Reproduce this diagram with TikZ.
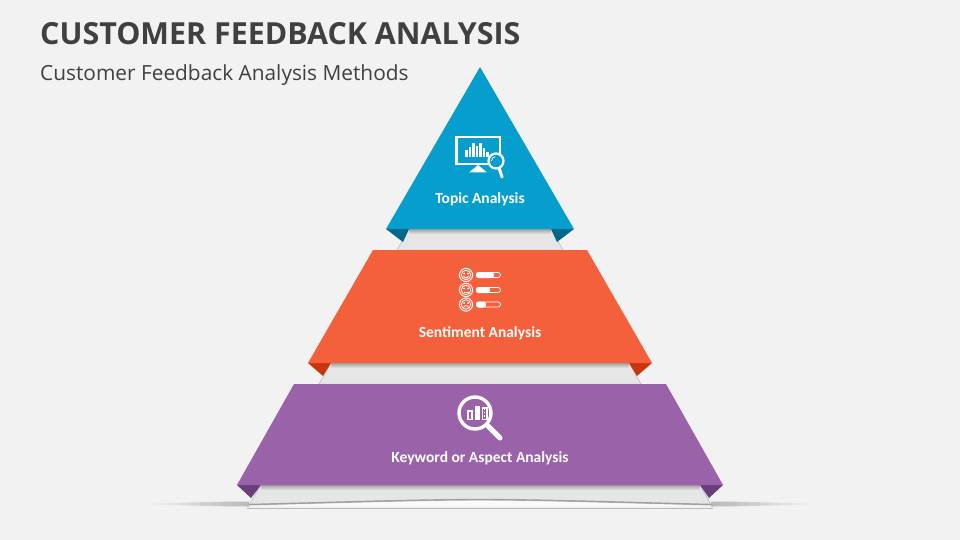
\documentclass[tikz,border=0pt]{standalone}
\usepackage{fontspec}
\setmainfont{Open Sans}
\newfontfamily\labelfont{Carlito}
\usetikzlibrary{positioning, calc}

\definecolor{pagebg}{HTML}{F2F2F2}
\definecolor{titlegray}{HTML}{404040}
\definecolor{topicblue}{HTML}{069FCD}
\definecolor{topicdark}{HTML}{04678A}
\definecolor{sentorange}{HTML}{F4603C}
\definecolor{sentdark}{HTML}{C9350C}
\definecolor{keypurple}{HTML}{9A62A8}
\definecolor{keydark}{HTML}{6A3D7E}
\definecolor{panelgray}{HTML}{E6E6E6}

\tikzset{
  titletext/.style={anchor=west, inner sep=0pt, text=titlegray, font=\fontsize{30.4}{36}\selectfont\bfseries},
  subtext/.style={anchor=west, inner sep=0pt, text=titlegray, font=\fontsize{20.85}{24}\selectfont},
  tiertext/.style={inner sep=0pt, text=white, font=\labelfont\fontsize{15.5}{18}\selectfont\bfseries},
  panel/.style={fill=panelgray, draw=gray!60, line width=0.5pt}
}

\begin{document}
\begin{tikzpicture}[x=1pt, y=-1pt]
\useasboundingbox (0,0) rectangle (960,540);
\fill[pagebg] (0,0) rectangle (960,540);

% Titles
\node[titletext] (title) at (40,33.5) {CUSTOMER FEEDBACK ANALYSIS};
\node[subtext] (subtitle) at (40,75) {Customer Feedback Analysis Methods};

% Ground shadow
\shade[left color=pagebg, right color=gray!55] (140,504) .. controls (190,502.5) and (220,501.5) .. (249,501.5) -- (249,506.5) .. controls (220,506.5) and (190,505.5) .. (140,504);
\shade[left color=gray!55, right color=pagebg] (711,501.5) .. controls (740,501.5) and (770,502.5) .. (820,504) .. controls (770,505.5) and (740,506.5) .. (711,506.5) -- cycle;

% Back panels
\draw[panel] (409,229) -- (397,250) -- (563,250) -- (551,229) -- cycle;
\draw[panel] (331,363) -- (319,384) -- (641,384) -- (629,363) -- cycle;
\draw[panel] (261,485) -- (249,505) .. controls (330,503) and (420,500) .. (480,500) .. controls (540,500) and (630,503) .. (711,505) -- (700,485) -- cycle;
\shade[top color=gray!75, bottom color=panelgray] (409,229) rectangle (551,234);
\shade[top color=gray!75, bottom color=panelgray] (331,363) rectangle (629,368);
\shade[top color=gray!75, bottom color=panelgray] (261,485) rectangle (700,490);
\draw[gray!75, line width=1.4pt] (249,504.5) .. controls (330,502.5) and (420,499.5) .. (480,499.5) .. controls (540,499.5) and (630,502.5) .. (711,504.5);
\fill[white!60!pagebg] (252,506) .. controls (330,504) and (420,501) .. (480,501) .. controls (540,501) and (630,504) .. (708,506) -- cycle;
\draw[gray!55, line width=1pt] (247,508) -- (713,508);

% Folded tabs
\fill[topicdark] (386,229) -- (409,229) -- (403,242) -- cycle;
\fill[topicdark] (574,229) -- (551,229) -- (557,242) -- cycle;
\fill[sentdark] (308,363) -- (331,363) -- (323,376) -- cycle;
\fill[sentdark] (652,363) -- (629,363) -- (637,376) -- cycle;
\fill[keydark] (237,485) -- (261,485) -- (251,498) -- cycle;
\fill[keydark] (723,485) -- (700,485) -- (709,498) -- cycle;

% Tiers
\fill[topicblue] (480,67) -- (574,229) -- (386,229) -- cycle;
\fill[sentorange] (373,250) -- (587,250) -- (652,363) -- (308,363) -- cycle;
\fill[keypurple] (294,384) -- (666,384) -- (723,485) -- (237,485) -- cycle;

\node[tiertext] (topic) at (480,199) {Topic Analysis};
\node[tiertext] (sentiment) at (480,333) {Sentiment Analysis};
\node[tiertext] (keyword) at (480,458) {Keyword or Aspect Analysis};

% Monitor icon
\draw[white, line width=2.2pt] (456.5,137) rectangle (500,164);
\fill[white] (478,165) -- (487,172.5) -- (469,172.5) -- cycle;
\foreach \xb/\yb in {465/150,468.5/147,472/143,475.5/146,479/143,482.5/148,486/152}
  \fill[white] (\xb,\yb) rectangle (\xb+2.6,157.5);
\draw[white, line width=3pt, line cap=round] (499,168) -- (502,177);
\draw[white, fill=topicblue, line width=2.2pt] (496,161) circle (7.5);
\draw[white, line width=0.7pt] (491.5,161) arc (180:260:4.5);

% Faces icon
\foreach \yc/\xe in {275/494,290/490,304.5/486}{
  \draw[white, line width=1pt] (466,\yc) circle (6.6);
  \draw[white, line width=0.8pt] (466,\yc) circle (4.7);
  \fill[white] (464,\yc-1.5) circle (1) (468,\yc-1.5) circle (1);
  \draw[white, line width=0.8pt, rounded corners=2.5pt] (476.5,\yc-2.5) rectangle (500.5,\yc+2.5);
  \fill[white, rounded corners=2.5pt] (476,\yc-3) -- (\xe,\yc-3) -- (\xe,\yc+3) -- (476,\yc+3) -- cycle;
}
\draw[white, line width=0.9pt] (463.5,276) .. controls (465,278.5) and (467,278.5) .. (468.5,276);
\draw[white, line width=0.9pt] (463.5,292) -- (468.5,292);
\draw[white, line width=0.9pt] (463.5,307.5) .. controls (465,305) and (467,305) .. (468.5,307.5);

% Magnifier icon
\draw[white, line width=3.4pt] (475,413) circle (16);
\draw[white, line width=5pt, line cap=round] (488,426) -- (500,438);
\draw[white, line width=1.2pt] (468,411) rectangle (472,419.5);
\fill[white] (475,405.5) rectangle (479.5,420);
\draw[white, line width=1.2pt] (482.5,408) rectangle (487,419.5);
\draw[white, line width=1.2pt, dotted] (484.7,409) -- (484.7,419);
\end{tikzpicture}
\end{document}
